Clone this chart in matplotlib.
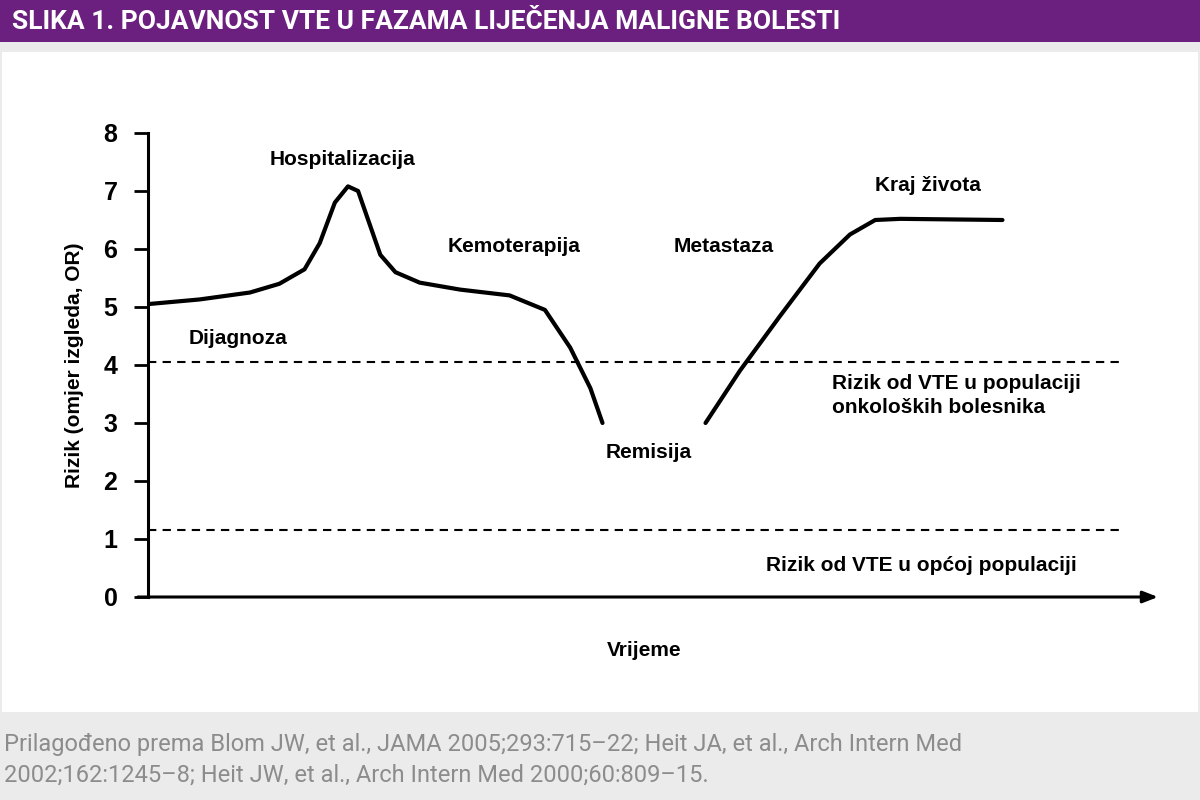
import matplotlib
matplotlib.use("Agg")
import matplotlib.pyplot as plt
from matplotlib.patches import Rectangle

plt.rcParams["font.family"] = ["Liberation Sans", "DejaVu Sans"]

# 曲线数据（时间轴为任意单位 0..10）
phase1_x = [0.0, 0.51, 1.01, 1.3, 1.55, 1.7, 1.85, 1.98, 2.08, 2.18, 2.3, 2.45, 2.69, 3.09, 3.58, 3.93, 4.18, 4.38, 4.5]
phase1_y = [5.05, 5.13, 5.25, 5.4, 5.65, 6.1, 6.8, 7.08, 7.0, 6.5, 5.9, 5.6, 5.42, 5.3, 5.2, 4.95, 4.3, 3.6, 3.0]
phase2_x = [5.52, 5.86, 6.26, 6.65, 6.95, 7.2, 7.45, 8.46]
phase2_y = [3.0, 3.9, 4.85, 5.75, 6.25, 6.5, 6.52, 6.5]
onko_risk = 4.05
general_risk = 1.15
y_ticks = [0, 1, 2, 3, 4, 5, 6, 7, 8]

fig = plt.figure(figsize=(12, 8), dpi=100, facecolor="#ebebeb")
fig.patches.append(Rectangle((0, 1 - 42 / 800), 1, 42 / 800, transform=fig.transFigure,
                             facecolor="#6b2080", edgecolor="none", zorder=0))
fig.patches.append(Rectangle((2 / 1200, 1 - 712 / 800), 1196 / 1200, 660 / 800,
                             transform=fig.transFigure, facecolor="white",
                             edgecolor="none", zorder=0))
fig.text(12 / 1200, 1 - 22 / 800, "SLIKA 1. POJAVNOST VTE U FAZAMA LIJEČENJA MALIGNE BOLESTI",
         color="white", fontsize=19, fontweight="bold", va="center", ha="left",
         family=["Roboto", "DejaVu Sans"])
fig.text(4 / 1200, 1 - 760 / 800,
         "Prilagođeno prema Blom JW, et al., JAMA 2005;293:715–22; Heit JA, et al., Arch Intern Med\n"
         "2002;162:1245–8; Heit JW, et al., Arch Intern Med 2000;60:809–15.",
         color="#8c8c8c", fontsize=17, va="center", ha="left", linespacing=1.4,
         family=["Roboto", "DejaVu Sans"])

ax = fig.add_axes([148 / 1200, 1 - 597 / 800, 1010 / 1200, 464 / 800])
ax.set_zorder(2)
ax.set_xlim(0, 10)
ax.set_ylim(0, 8)
ax.patch.set_alpha(0)
for s in ["top", "right", "bottom"]:
    ax.spines[s].set_visible(False)
ax.spines["left"].set_linewidth(2.2)
ax.set_xticks([])
ax.set_yticks(y_ticks)
ax.tick_params(axis="y", length=10, width=2, labelsize=18, pad=12)
for t in ax.get_yticklabels():
    t.set_fontweight("bold")
ax.annotate("", xy=(10, 0), xytext=(-0.1, 0), xycoords="data",
            arrowprops=dict(arrowstyle="-|>,head_length=0.9,head_width=0.35",
                            color="black", lw=2.2, shrinkA=0, shrinkB=0),
            annotation_clip=False)

ax.plot(phase1_x, phase1_y, color="black", lw=3, solid_capstyle="round", solid_joinstyle="round")
ax.plot(phase2_x, phase2_y, color="black", lw=3, solid_capstyle="round", solid_joinstyle="round")
ax.plot([0, 9.62], [onko_risk, onko_risk], color="black", lw=1.5, ls=(0, (4, 3)))
ax.plot([0, 9.62], [general_risk, general_risk], color="black", lw=1.5, ls=(0, (4, 3)))

lab = dict(fontsize=15, fontweight="bold", va="center")
ax.text(1.93, 7.55, "Hospitalizacija", ha="center", **lab)
ax.text(0.89, 4.45, "Dijagnoza", ha="center", **lab)
ax.text(3.62, 6.05, "Kemoterapija", ha="center", **lab)
ax.text(5.7, 6.05, "Metastaza", ha="center", **lab)
ax.text(7.72, 7.1, "Kraj života", ha="center", **lab)
ax.text(4.96, 2.5, "Remisija", ha="center", **lab)
ax.text(6.77, 3.48, "Rizik od VTE u populaciji\nonkoloških bolesnika", ha="left",
        linespacing=1.35, **lab)
ax.text(6.12, 0.55, "Rizik od VTE u općoj populaciji", ha="left", **lab)
ax.text(4.91, -0.92, "Vrijeme", ha="center", **lab)
ax.set_ylabel("Rizik (omjer izgleda, OR)", fontsize=15, fontweight="bold", labelpad=14)

fig.savefig("out.png", dpi=100, facecolor=fig.get_facecolor())
